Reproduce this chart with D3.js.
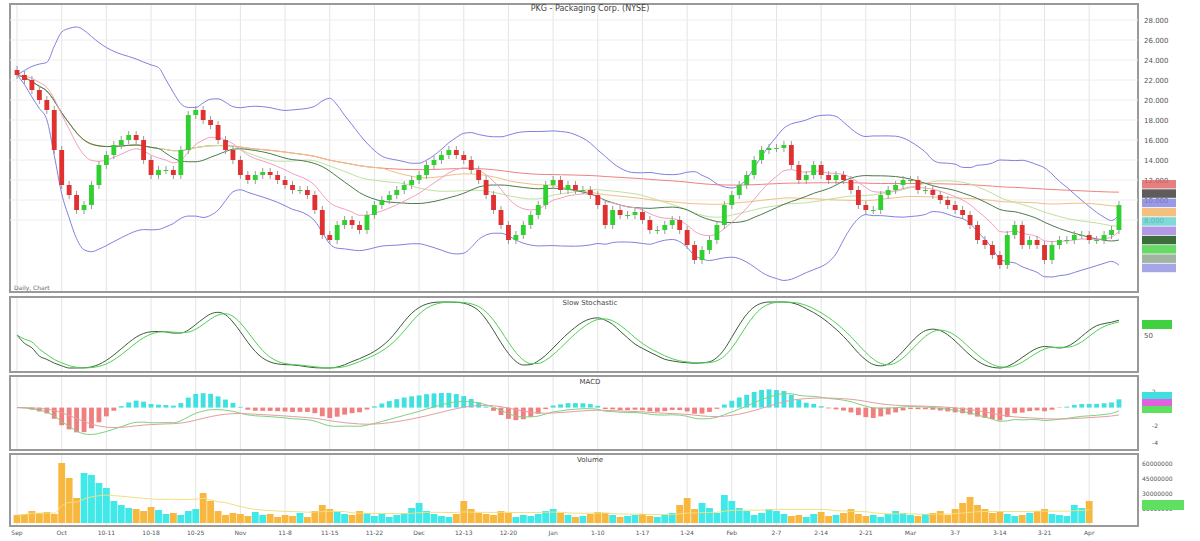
<!DOCTYPE html>
<html><head><meta charset="utf-8">
<script src="https://cdn.jsdelivr.net/npm/d3@7"></script>
<style>body{margin:0;background:#fff;font-family:"DejaVu Sans",sans-serif}</style>
</head><body>
<script>
// daily closes
var closes = [22.5,22,21,20,19,15,11.5,10.5,9,9.5,11.5,13.5,14.5,15.5,16,16.5,16,14,12.5,13,13,12.5,15,18.5,19,18,17.5,16,15,14,
  12.5,12,12.5,12.8,12.5,12,11.5,11,11,10.5,9,6.5,6,7.5,8,7.5,7,8.5,9.5,10,10.5,11,11.5,12,12.5,13.5,14,14.5,15,14.5,
  14,13,12,10.5,9,7.5,6,6.5,7.5,8.5,9.5,11.5,12,11,11.5,11,11,10.5,9.5,7.5,9,8.5,8.5,8.8,8,7,7,7.5,8,7,
  5.5,4,5,6,7.5,9.5,10.5,11.5,12.5,14,15,15.2,15.2,15.5,13.5,12,12.5,13.5,12.5,12,12.5,12,11,9.5,9,9,10.5,11,11.5,12,
  12,11,11,10.5,10,9.5,9,8.5,7.5,6,5.5,4.5,3.5,6.5,7.5,5.5,6,5.5,4,5.5,6,6,6.5,6.5,6,6,6.5,7,9.5];
var volumes = [8,9,12,10,11,9,60,45,25,50,48,40,35,22,18,15,14,12,16,13,9,10,8,12,14,30,22,12,8,10,
  9,7,11,8,9,6,8,7,10,6,12,18,14,11,9,8,12,10,7,9,6,8,10,15,20,12,9,7,6,9,
  22,14,10,9,8,12,10,6,8,7,9,12,14,10,8,6,7,9,11,10,8,6,7,8,9,7,6,8,10,18,
  25,14,20,15,10,28,22,15,12,8,10,14,12,9,7,8,6,9,11,7,8,10,14,9,7,8,6,9,12,10,
  8,7,9,10,12,8,14,20,26,18,14,10,12,9,7,8,10,12,14,9,8,7,18,15,22];
var priceTicks = [28,26,24,22,20,18,16,14,12,10,8];
var dateLabels = [[0,"Sep"],[6,"Oct"],[12,"10-11"],[18,"10-18"],[24,"10-25"],[30,"Nov"],[36,"11-8"],[42,"11-15"],[48,"11-22"],[54,"Dec"],
  [60,"12-13"],[66,"12-20"],[72,"Jan"],[78,"1-10"],[84,"1-17"],[90,"1-24"],[96,"Feb"],[102,"2-7"],[108,"2-14"],[114,"2-21"],
  [120,"Mar"],[126,"3-7"],[132,"3-14"],[138,"3-21"],[144,"Apr"]];
var legendColors = ["#e06060","#333","#8080e0","#f0b060","#60d0d0","#a080e0","#0a4a0a","#40d040","#8aa08a","#9090e0"];

var W = 1200, H = 541, L = 10, R = 1138;
var n = closes.length;
var opens = closes.map(function(c, i){ return i ? closes[i-1] : c + 0.5; });
var svg = d3.select("body").append("svg").attr("width", W).attr("height", H);
svg.append("rect").attr("width", W).attr("height", H).attr("fill", "#fff");

var x = d3.scaleBand().domain(d3.range(n)).range([L + 2, R - 14]).padding(0.35);
var cx = function(i){ return x(i) + x.bandwidth() / 2; };
var panels = [[4, 292], [297, 372], [376, 450], [454, 526]];

// grid + frames
panels.forEach(function(p){
  dateLabels.forEach(function(d){
    svg.append("line").attr("x1", cx(d[0])).attr("x2", cx(d[0])).attr("y1", p[0]).attr("y2", p[1]).attr("stroke", "#e4e4e4");
  });
  svg.append("rect").attr("x", L).attr("y", p[0]).attr("width", R - L).attr("height", p[1] - p[0])
    .attr("fill", "none").attr("stroke", "#999").attr("stroke-width", 2);
});

function sma(arr, k){ return arr.map(function(_, i){ var s = arr.slice(Math.max(0, i-k+1), i+1); return d3.mean(s); }); }
function ema(arr, k){ var a = 2/(k+1), out = []; arr.forEach(function(v, i){ out.push(i ? a*v + (1-a)*out[i-1] : v); }); return out; }

// price panel
var y = d3.scaleLinear().domain([1.2, 29.2]).range([288, 8]);
priceTicks.forEach(function(t){
  svg.append("line").attr("x1", L).attr("x2", R).attr("y1", y(t)).attr("y2", y(t)).attr("stroke", "#eee");
  svg.append("text").attr("x", R + 6).attr("y", y(t) + 3).attr("font-size", 7).attr("fill", "#555").text(t.toFixed(3));
});
var mid = sma(closes, 20);
var sd = closes.map(function(_, i){ var s = closes.slice(Math.max(0, i-19), i+1); return d3.deviation(s) || 0; });
var line = d3.line().x(function(d, i){ return cx(i); }).y(function(d){ return y(d); }).curve(d3.curveMonotoneX);
[[mid.map(function(m,i){return m + 2*sd[i];}), "#8080e0"], [mid.map(function(m,i){return m - 2*sd[i];}), "#8080e0"],
 [sma(closes, 150), "#f08080"], [sma(closes, 50), "#f0c080"], [sma(closes, 30), "#c0e0a0"], [sma(closes, 20), "#4a7a4a"],
 [ema(closes, 10), "#f0a0c0"]].forEach(function(s){
  svg.append("path").attr("d", line(s[0])).attr("fill", "none").attr("stroke", s[1]).attr("stroke-width", 1);
});
closes.forEach(function(c, i){
  var o = opens[i], up = c >= o;
  svg.append("line").attr("x1", cx(i)).attr("x2", cx(i)).attr("y1", y(Math.max(o, c) + 0.4)).attr("y2", y(Math.min(o, c) - 0.4)).attr("stroke", "#999");
  svg.append("rect").attr("x", x(i)).attr("width", x.bandwidth()).attr("y", y(Math.max(o, c)))
    .attr("height", Math.max(1, Math.abs(y(o) - y(c)))).attr("fill", up ? "#30d030" : "#e03030");
});
svg.append("text").attr("x", 590).attr("y", 11).attr("text-anchor", "middle").attr("font-size", 8).attr("fill", "#444").text("PKG - Packaging Corp. (NYSE)");
svg.append("text").attr("x", 14).attr("y", 290).attr("font-size", 6).attr("fill", "#666").text("Daily, Chart");
legendColors.forEach(function(c, i){
  svg.append("rect").attr("x", R + 4).attr("y", 180 + i*9.3).attr("width", 34).attr("height", 8.5).attr("fill", c).attr("opacity", 0.8);
});

// stochastic
var yS = d3.scaleLinear().domain([0, 100]).range([368, 302]);
var kRaw = closes.map(function(c, i){ var s = closes.slice(Math.max(0, i-13), i+1), lo = d3.min(s), hi = d3.max(s); return hi > lo ? 100*(c-lo)/(hi-lo) : 50; });
var k = sma(kRaw, 5), dd = sma(k, 3);
var lineS = d3.line().x(function(d, i){ return cx(i); }).y(function(d){ return yS(d); }).curve(d3.curveMonotoneX);
svg.append("path").attr("d", lineS(sma(k, 3))).attr("fill", "none").attr("stroke", "#3a5a3a");
svg.append("path").attr("d", lineS(sma(dd, 3))).attr("fill", "none").attr("stroke", "#50d050");
svg.append("text").attr("x", 590).attr("y", 305).attr("text-anchor", "middle").attr("font-size", 7).attr("fill", "#444").text("Slow Stochastic");
svg.append("rect").attr("x", R + 4).attr("y", 320).attr("width", 30).attr("height", 9).attr("fill", "#40d040");
svg.append("text").attr("x", R + 6).attr("y", 338).attr("font-size", 7).attr("fill", "#555").text("50");

// MACD
var macd = ema(closes, 12).map(function(v, i){ return v - ema(closes, 26)[i]; });
var sig = ema(macd, 9), hist = macd.map(function(v, i){ return v - sig[i]; });
var yM = d3.scaleLinear().domain([-4.5, 3]).range([446, 382]);
var lineM = d3.line().x(function(d, i){ return cx(i); }).y(function(d){ return yM(d); }).curve(d3.curveMonotoneX);
hist.forEach(function(h, i){
  svg.append("rect").attr("x", x(i)).attr("width", x.bandwidth()).attr("y", yM(Math.max(0, h*2)))
    .attr("height", Math.abs(yM(0) - yM(h*2))).attr("fill", h >= 0 ? "#40e0e0" : "#f08080");
});
svg.append("path").attr("d", lineM(macd)).attr("fill", "none").attr("stroke", "#80d080");
svg.append("path").attr("d", lineM(sig)).attr("fill", "none").attr("stroke", "#e0a0a0");
svg.append("text").attr("x", 590).attr("y", 384).attr("text-anchor", "middle").attr("font-size", 7).attr("fill", "#444").text("MACD");
[[2, "2"], [0, "0"], [-2, "-2"], [-4, "-4"]].forEach(function(t){
  svg.append("text").attr("x", R + 14).attr("y", yM(t[0]) + 3).attr("font-size", 6).attr("fill", "#555").text(t[1]);
});
svg.append("rect").attr("x", R + 4).attr("y", 392).attr("width", 30).attr("height", 7).attr("fill", "#40e0e0");
svg.append("rect").attr("x", R + 4).attr("y", 399).attr("width", 30).attr("height", 7).attr("fill", "#e060e0");
svg.append("rect").attr("x", R + 4).attr("y", 406).attr("width", 30).attr("height", 7).attr("fill", "#60e060");

// volume
var yV = d3.scaleLinear().domain([0, 65]).range([523, 458]);
volumes.slice(0, n).forEach(function(v, i){
  svg.append("rect").attr("x", x(i) - 1).attr("width", x.bandwidth() + 2).attr("y", yV(v))
    .attr("height", yV(0) - yV(v)).attr("fill", closes[i] >= opens[i] ? "#40e8e8" : "#f8b840");
});
var lineV = d3.line().x(function(d, i){ return cx(i); }).y(function(d){ return yV(d); }).curve(d3.curveMonotoneX);
svg.append("path").attr("d", lineV(sma(volumes.slice(0, n), 20))).attr("fill", "none").attr("stroke", "#f0e080");
svg.append("text").attr("x", 590).attr("y", 462).attr("text-anchor", "middle").attr("font-size", 7).attr("fill", "#444").text("Volume");
[60, 45, 30, 15].forEach(function(t){
  svg.append("text").attr("x", R + 4).attr("y", yV(t) + 3).attr("font-size", 6).attr("fill", "#555").text(t + "000000");
});
svg.append("rect").attr("x", R + 4).attr("y", 500).attr("width", 42).attr("height", 10).attr("fill", "#60e060");

// dates
dateLabels.forEach(function(d){
  svg.append("text").attr("x", cx(d[0])).attr("y", 535).attr("text-anchor", "middle").attr("font-size", 6).attr("fill", "#555").text(d[1]);
});
</script>
</body></html>
